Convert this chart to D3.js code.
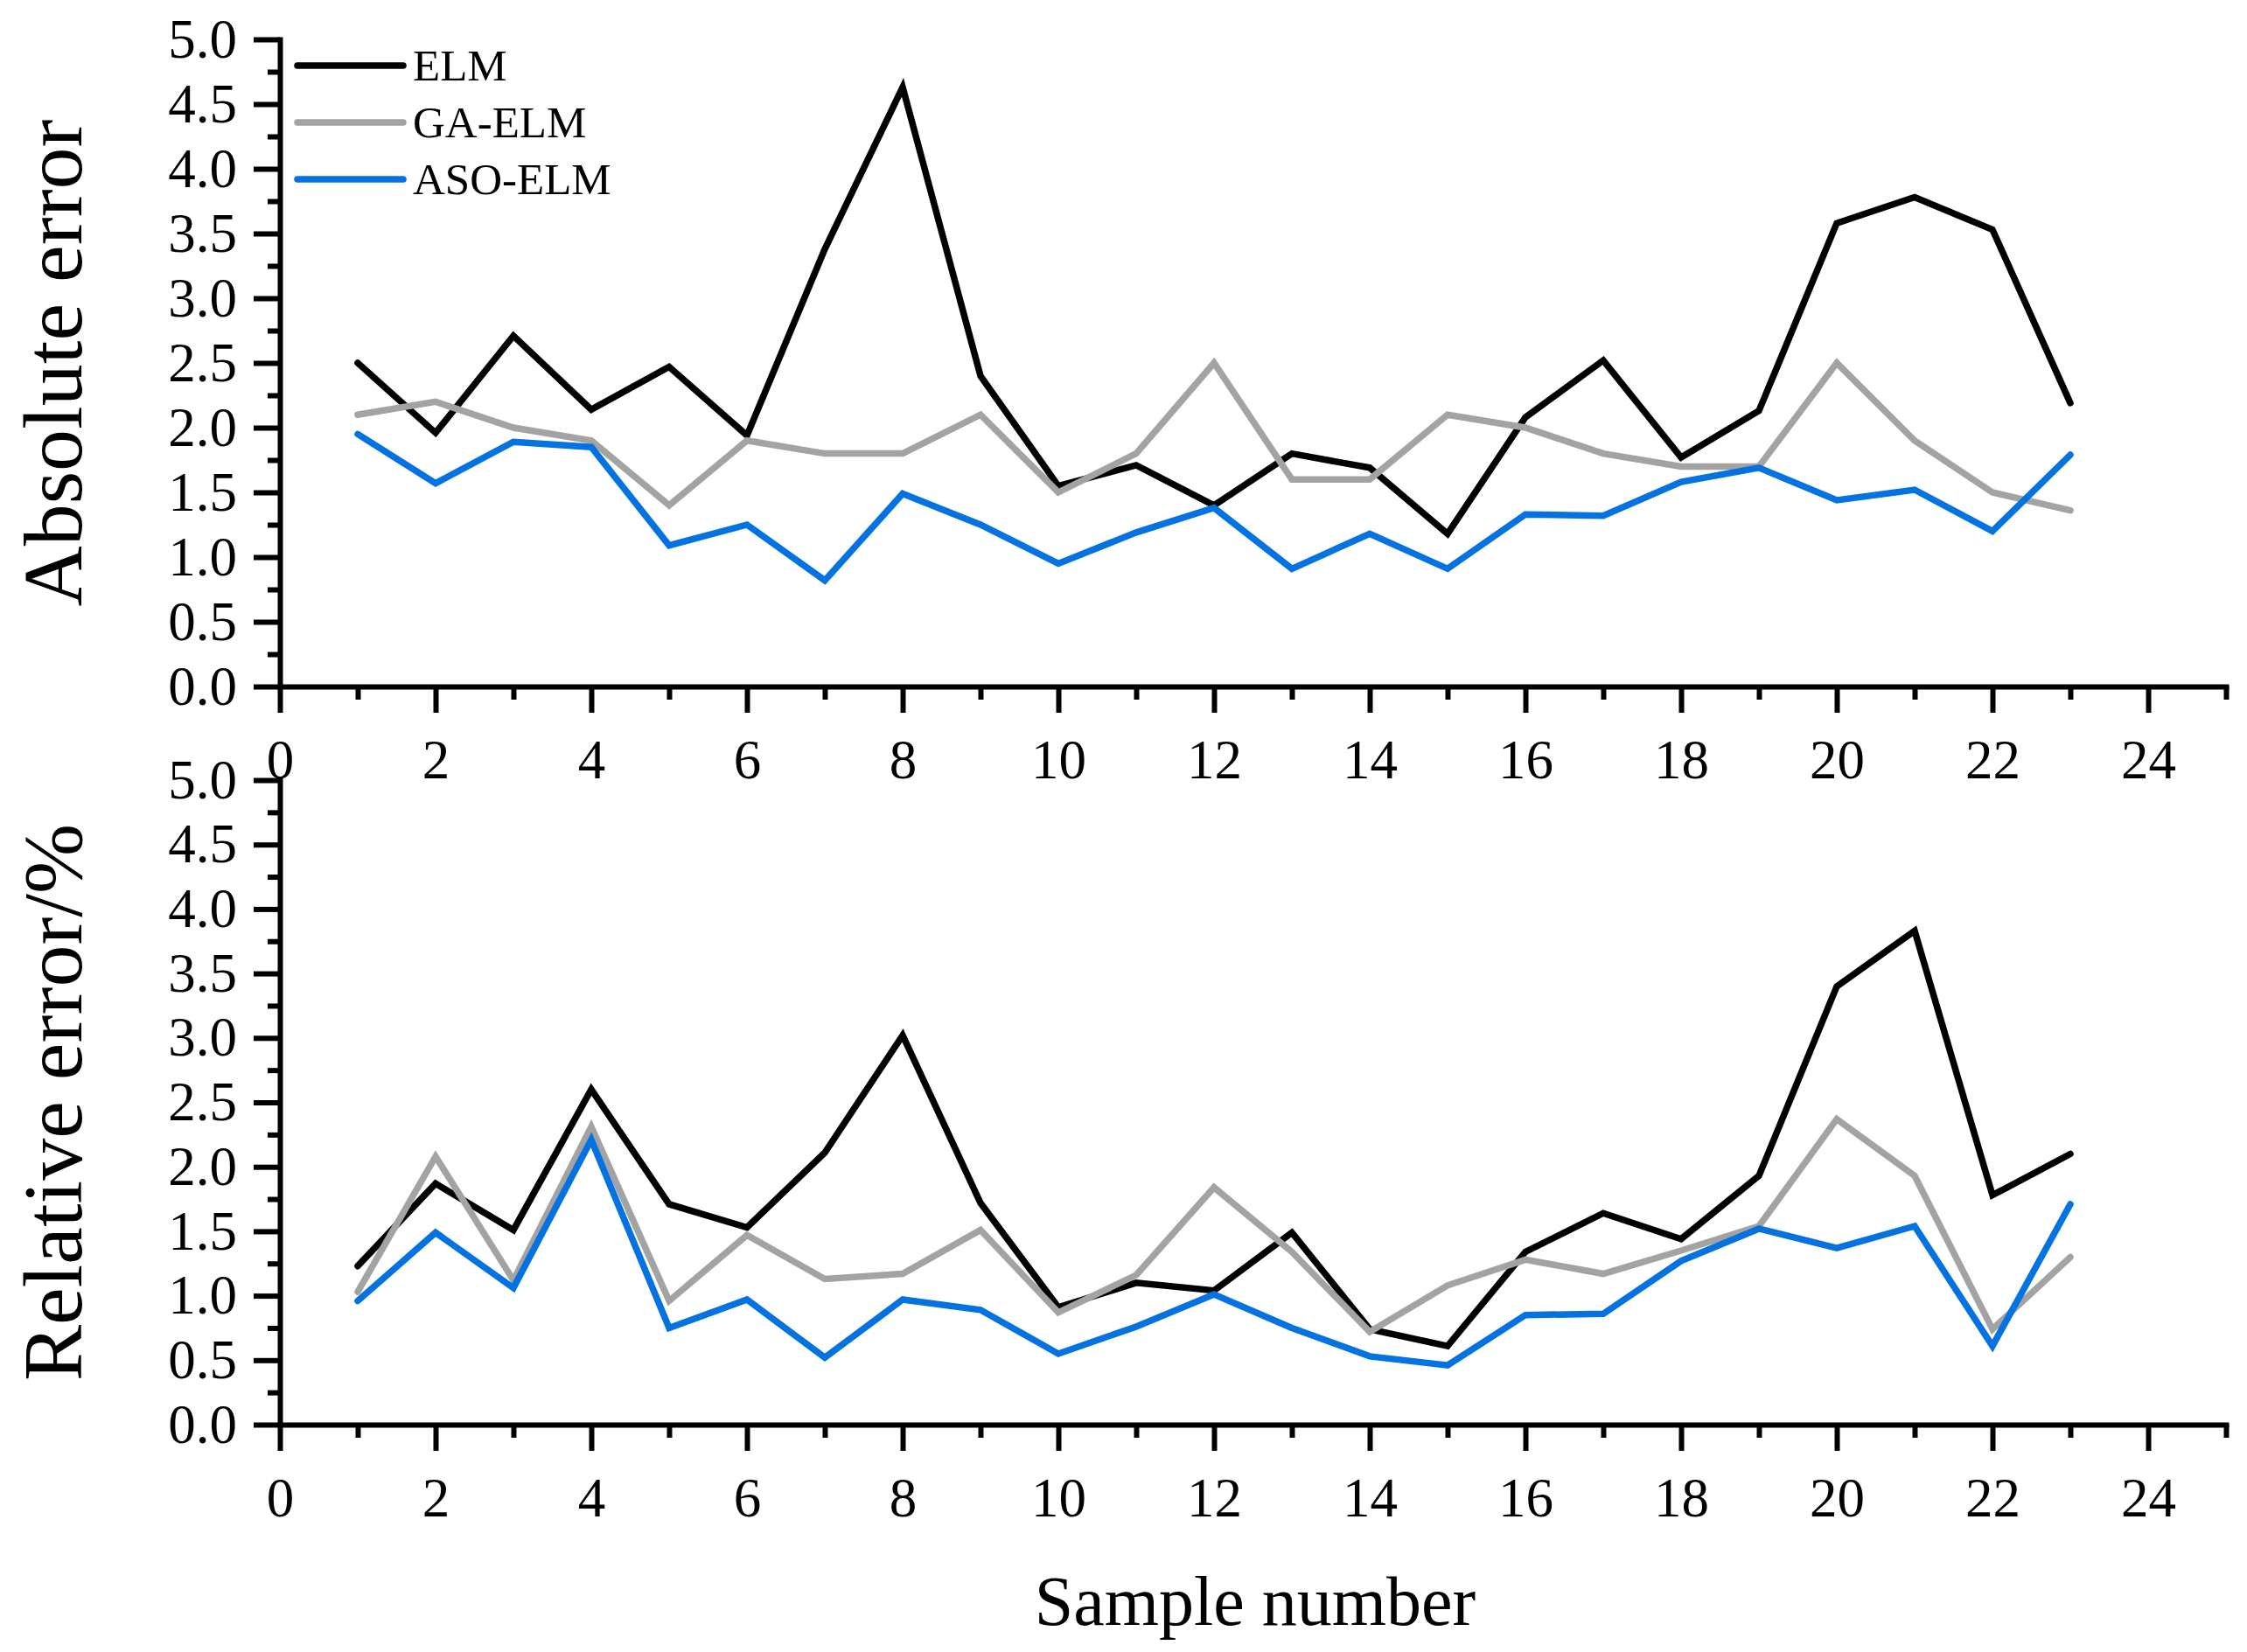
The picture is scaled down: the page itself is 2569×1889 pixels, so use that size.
<!DOCTYPE html>
<html>
<head>
<meta charset="utf-8">
<script src="https://cdn.jsdelivr.net/npm/d3@7"></script>
<style>
  html, body { margin: 0; padding: 0; background: #ffffff; }
  svg { display: block; }
  text { font-family: "Liberation Serif", "Times New Roman", serif; fill: #000; }
</style>
</head>
<body>
<svg id="chart" width="2569" height="1889"></svg>
<script>
// ---- data ----
const samples = [1,2,3,4,5,6,7,8,9,10,11,12,13,14,15,16,17,18,19,20,21,22,23];
const seriesNames = ["ELM", "GA-ELM", "ASO-ELM"];

const absELM   = [2.50,1.96,2.71,2.14,2.47,1.94,3.38,4.63,2.40,1.55,1.71,1.40,1.80,1.69,1.18,2.08,2.52,1.77,2.13,3.58,3.78,3.53,2.19];
const absGA    = [2.10,2.20,2.00,1.90,1.40,1.90,1.80,1.80,2.10,1.50,1.80,2.50,1.60,1.60,2.10,2.00,1.80,1.70,1.70,2.50,1.90,1.50,1.36];
const absASO   = [1.95,1.57,1.89,1.85,1.09,1.25,0.82,1.49,1.25,0.95,1.19,1.38,0.91,1.18,0.91,1.33,1.32,1.58,1.69,1.44,1.52,1.20,1.79];

const relELM   = [1.23,1.87,1.51,2.60,1.71,1.53,2.11,3.02,1.72,0.91,1.10,1.04,1.49,0.74,0.61,1.34,1.64,1.44,1.93,3.40,3.83,1.78,2.10];
const relGA    = [1.03,2.08,1.12,2.31,0.96,1.47,1.13,1.17,1.51,0.87,1.16,1.84,1.34,0.72,1.08,1.28,1.17,1.35,1.54,2.37,1.93,0.74,1.30];
const relASO   = [0.96,1.49,1.06,2.21,0.75,0.97,0.52,0.97,0.89,0.55,0.76,1.01,0.75,0.53,0.46,0.85,0.86,1.27,1.52,1.37,1.54,0.61,1.71];

const xMajorTicks = [0,2,4,6,8,10,12,14,16,18,20,22,24];
const xMinorTicks = [1,3,5,7,9,11,13,15,17,19,21,23,25];
const yMajorTicks = [0,0.5,1,1.5,2,2.5,3,3.5,4,4.5,5];
const yMinorTicks = [0.25,0.75,1.25,1.75,2.25,2.75,3.25,3.75,4.25,4.75];

const xTitle = "Sample number";
const yTitleTop = "Absolute error";
const yTitleBottom = "Relative error/%";

// ---- layout ----
const colors = { "ELM": "#000000", "GA-ELM": "#a3a3a3", "ASO-ELM": "#0572e2" };
const svg = d3.select("#chart");
const x = d3.scaleLinear().domain([0, 25]).range([320, 2545]);

const panels = [
  { top: 45, bottom: 785, title: yTitleTop, data: [absELM, absGA, absASO], legend: true },
  { top: 892, bottom: 1629, title: yTitleBottom, data: [relELM, relGA, relASO], legend: false }
];

panels.forEach(p => {
  const y = d3.scaleLinear().domain([0, 5]).range([p.bottom, p.top]);
  const g = svg.append("g");

  // series lines
  const line = d3.line().x((d, i) => x(samples[i])).y(d => y(d));
  p.data.forEach((vals, k) => {
    g.append("path")
      .datum(vals)
      .attr("d", line)
      .attr("fill", "none")
      .attr("stroke", colors[seriesNames[k]])
      .attr("stroke-width", 7.5)
      .attr("stroke-linejoin", "miter")
      .attr("stroke-linecap", "round");
  });

  // x axis minor
  g.append("g")
    .attr("transform", `translate(0,${p.bottom})`)
    .call(d3.axisBottom(x).tickValues(xMinorTicks).tickSize(15).tickSizeOuter(0).tickFormat(""))
    .call(a => a.select(".domain").remove());
  // x axis major
  g.append("g")
    .attr("transform", `translate(0,${p.bottom})`)
    .call(d3.axisBottom(x).tickValues(xMajorTicks).tickSize(30).tickSizeOuter(0).tickPadding(30).tickFormat(d3.format("d")));
  // y axis minor
  g.append("g")
    .attr("transform", `translate(${x(0)},0)`)
    .call(d3.axisLeft(y).tickValues(yMinorTicks).tickSize(14).tickSizeOuter(0).tickFormat(""))
    .call(a => a.select(".domain").remove());
  // y axis major
  g.append("g")
    .attr("transform", `translate(${x(0)},0)`)
    .call(d3.axisLeft(y).tickValues(yMajorTicks).tickSize(30).tickSizeOuter(0).tickPadding(19).tickFormat(d3.format(".1f")));

  g.selectAll(".domain").attr("stroke", "#000").attr("stroke-width", 6).attr("stroke-linecap", "square");
  g.selectAll(".tick line").attr("stroke", "#000").attr("stroke-width", 6);
  g.selectAll(".tick text").attr("font-size", 63).attr("font-family", "Liberation Serif").attr("fill", "#000");

  // y title
  g.append("text")
    .attr("transform", `translate(93,${(p.top + p.bottom) / 2}) rotate(-90)`)
    .attr("text-anchor", "middle")
    .attr("font-size", 96)
    .text(p.title);

  if (p.legend) {
    const lg = g.append("g");
    const rows = [75, 140, 205];
    seriesNames.forEach((name, k) => {
      lg.append("line")
        .attr("x1", 340).attr("x2", 461)
        .attr("y1", rows[k]).attr("y2", rows[k])
        .attr("stroke", colors[name])
        .attr("stroke-width", 7.5)
        .attr("stroke-linecap", "round");
      lg.append("text")
        .attr("x", 472).attr("y", rows[k] + 17)
        .attr("font-size", 51)
        .text(name);
    });
  }
});

// x title
svg.append("text")
  .attr("x", 1435).attr("y", 1858)
  .attr("text-anchor", "middle")
  .attr("font-size", 80)
  .text(xTitle);
</script>
</body>
</html>
